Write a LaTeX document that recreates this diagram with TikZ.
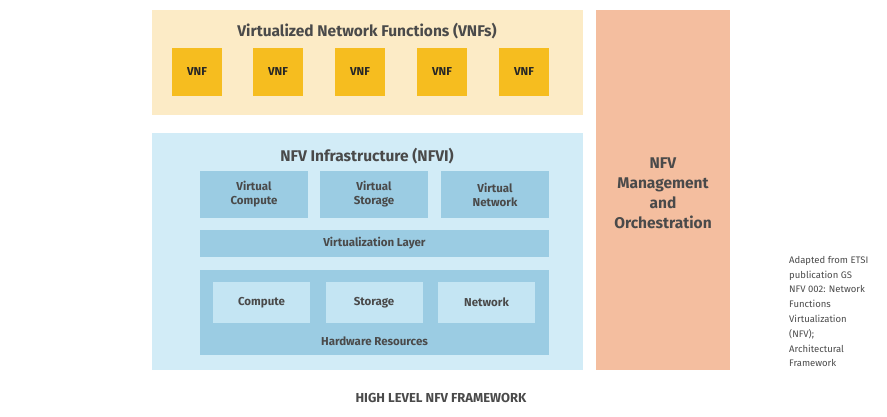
\documentclass[tikz,border=0pt]{standalone}
\usepackage{fontspec}
\setmainfont{Fira Sans}
\usetikzlibrary{positioning}
\definecolor{vnfbg}{HTML}{FCEBC6}
\definecolor{vnfbox}{HTML}{F6BD1F}
\definecolor{nfvibg}{HTML}{D2ECF7}
\definecolor{nfvibox}{HTML}{9BCCE3}
\definecolor{hwbox}{HTML}{C4E5F3}
\definecolor{manobg}{HTML}{F4BE9F}
\definecolor{txtgray}{HTML}{4A4A4A}
\tikzset{
  panel/.style={draw=none, anchor=north west, inner sep=0pt},
  block/.style={draw=none, fill=nfvibox, align=center, inner sep=0pt,
    font=\fontseries{sb}\selectfont\fontsize{11.5}{13}\selectfont, text=txtgray},
  title/.style={font=\fontseries{sb}\selectfont\fontsize{15.5}{17}\selectfont, text=txtgray}
}
\begin{document}
\begin{tikzpicture}[x=1pt, y=-1pt]
\useasboundingbox (0,0) rectangle (887,416);

% === VNF Layer ===
\node[panel, fill=vnfbg, minimum width=431, minimum height=105] (VNFs) at (152,10) {};
\node[title] (VNFs-title) at (367,31) {Virtualized Network Functions (VNFs)};
\foreach \i/\x in {1/197,2/278,3/360,4/442,5/524}{
  \node[block, fill=vnfbox, text=black!85, minimum width=50, minimum height=48]
    (VNF-\i) at (\x,72) {VNF};
}

% === NFVI ===
\node[panel, fill=nfvibg, minimum width=431, minimum height=237] (NFVI) at (152,133) {};
\node[title] (NFVI-title) at (367,156) {NFV Infrastructure (NFVI)};
\foreach \i/\x/\name in {1/254/Compute,2/374/Storage,3/495/Network}{
  \node[block, minimum width=108, minimum height=47]
    (Virtual-\i) at (\x,194.5) {Virtual\\[1pt]\name};
}
\node[block, minimum width=349, minimum height=27] (VLayer) at (374.5,243.5) {Virtualization Layer};
\node[block, minimum width=349, minimum height=85] (HW) at (374.5,312.5) {};
\node[font=\fontseries{sb}\selectfont\fontsize{11.5}{13}\selectfont, text=txtgray] (HW-title) at (374.5,341) {Hardware Resources};
\foreach \i/\x/\name in {1/261.5/Compute,2/374/Storage,3/486.5/Network}{
  \node[block, fill=hwbox, minimum width=97, minimum height=41]
    (Hardware-\i) at (\x,302.5) {\name};
}

% === MANO ===
\node[panel, fill=manobg, minimum width=134, minimum height=360] (MANO) at (596,10) {};
\node[align=center, font=\fontseries{sb}\selectfont\fontsize{15.5}{20}\selectfont, text=txtgray] (MANO-text) at (663,193) {NFV\\Management\\and\\Orchestration};

% === Labels ===
\node[anchor=north west, align=left, inner sep=0pt, text=txtgray,
  font=\fontsize{9.5}{14.8}\selectfont] (Source) at (789,256)
  {Adapted from ETSI\\publication GS\\NFV 002: Network\\Functions\\Virtualization\\(NFV);\\Architectural\\Framework};
\node[font=\fontseries{sb}\selectfont\fontsize{13}{14}\selectfont, text=txtgray] (Caption) at (441,398) {HIGH LEVEL NFV FRAMEWORK};
\end{tikzpicture}
\end{document}
